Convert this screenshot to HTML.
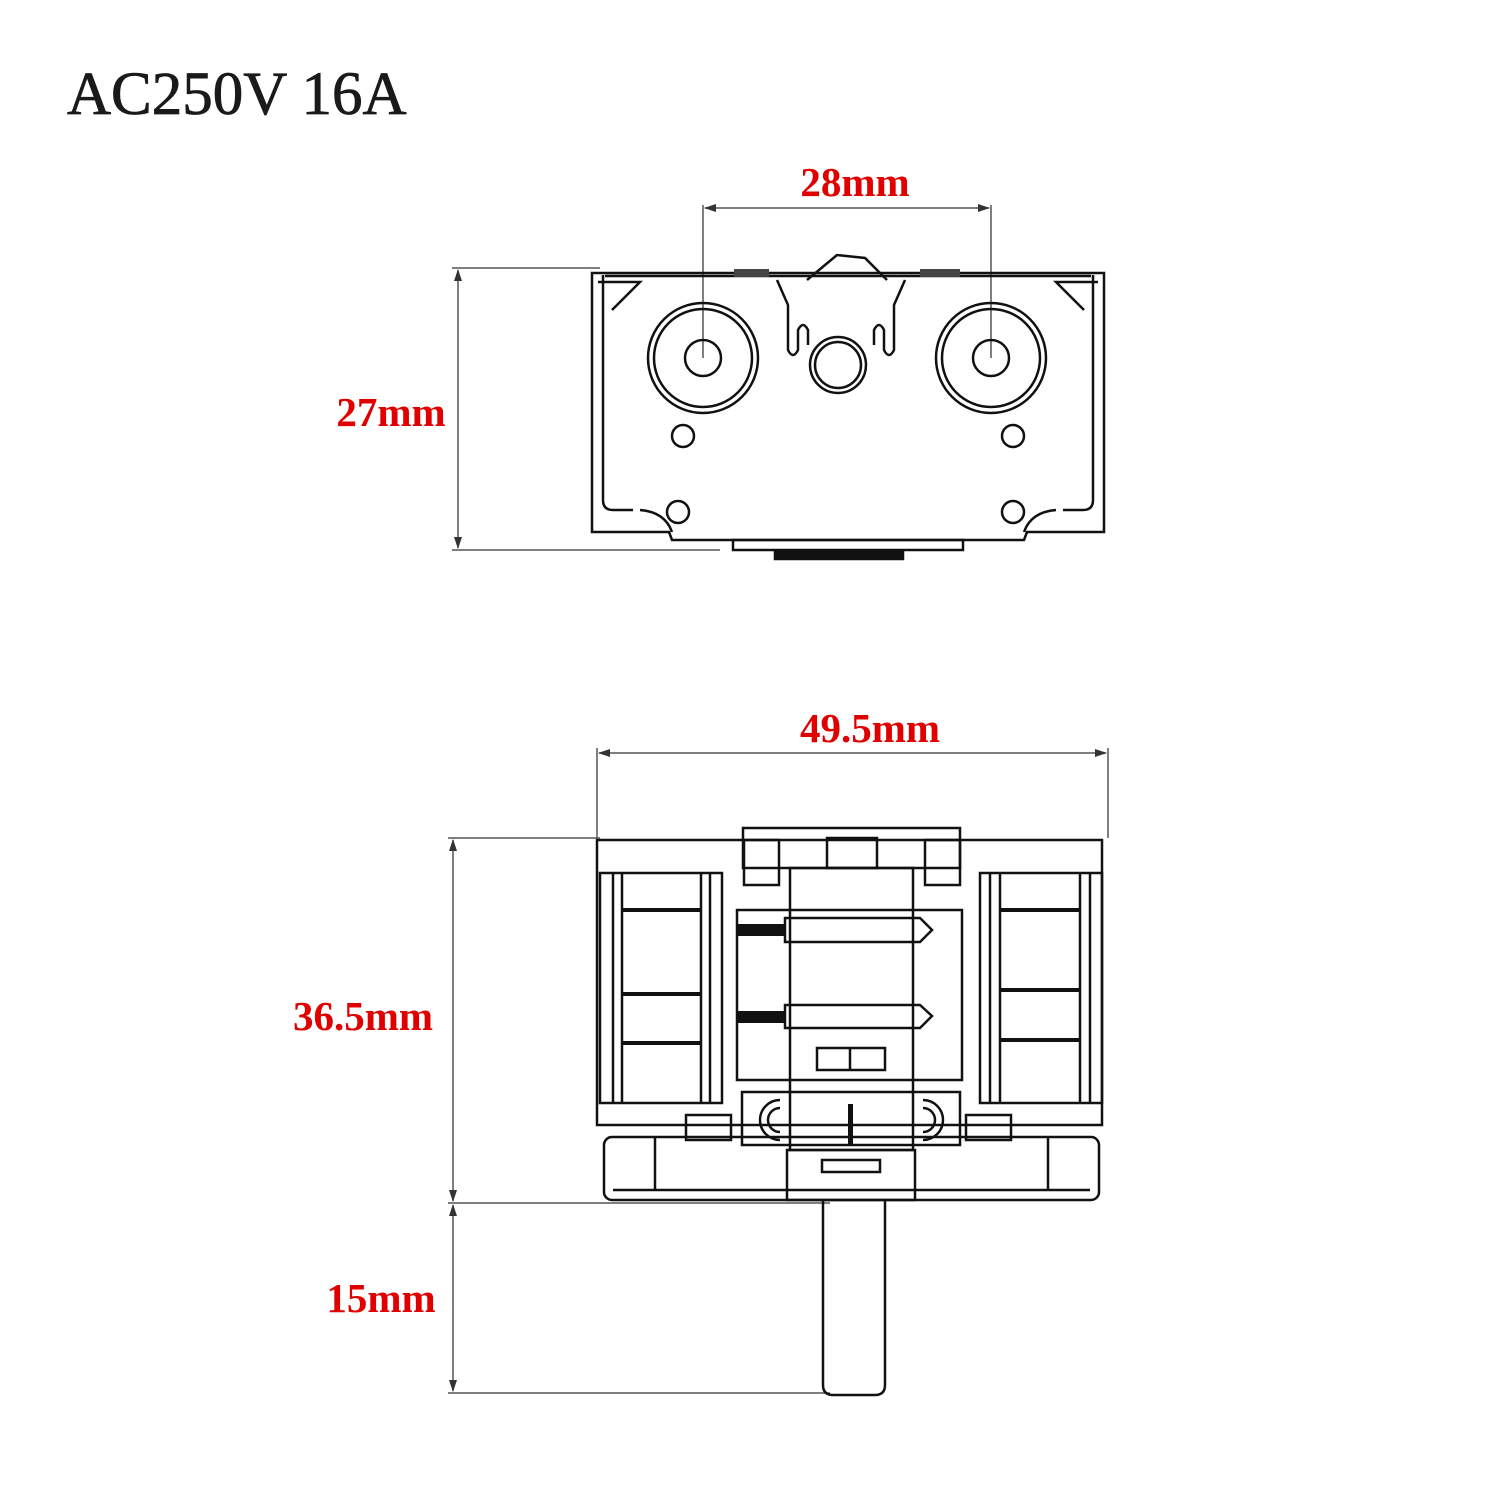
<!DOCTYPE html>
<html><head><meta charset="utf-8"><style>
html,body{margin:0;padding:0;background:#fff}
svg{display:block}
.t{font-family:"Liberation Serif",serif;fill:#1a1a1a;stroke:#1a1a1a;stroke-width:0.8}
.r{font-family:"Liberation Serif",serif;font-weight:bold;fill:#e00000;font-size:41px;text-anchor:middle}
</style></head><body>
<svg width="1500" height="1500" viewBox="0 0 1500 1500" xmlns="http://www.w3.org/2000/svg">
<defs>
<marker id="a" markerWidth="12" markerHeight="8" refX="11" refY="4" orient="auto-start-reverse" markerUnits="userSpaceOnUse"><path d="M0,0 L12,4 L0,8 z" fill="#333"/></marker>
</defs>
<text class="t" x="67" y="114" font-size="61">AC250V 16A</text>

<g stroke="#555" stroke-width="1.5" fill="none">
<line x1="703" y1="205" x2="703" y2="358"/>
<line x1="991" y1="205" x2="991" y2="358"/>
<line x1="705" y1="208" x2="989" y2="208" marker-start="url(#a)" marker-end="url(#a)"/>
<line x1="452" y1="268" x2="600" y2="268"/>
<line x1="452" y1="550" x2="720" y2="550"/>
<line x1="458" y1="270" x2="458" y2="548" marker-start="url(#a)" marker-end="url(#a)"/>
<line x1="597" y1="748" x2="597" y2="838"/>
<line x1="1108" y1="748" x2="1108" y2="838"/>
<line x1="599" y1="753" x2="1106" y2="753" marker-start="url(#a)" marker-end="url(#a)"/>
<line x1="448" y1="838" x2="600" y2="838"/>
<line x1="448" y1="1203" x2="830" y2="1203"/>
<line x1="453" y1="840" x2="453" y2="1201" marker-start="url(#a)" marker-end="url(#a)"/>
<line x1="453" y1="1205" x2="453" y2="1391" marker-start="url(#a)" marker-end="url(#a)"/>
<line x1="448" y1="1393" x2="830" y2="1393"/>
</g>
<text class="r" x="855" y="196">28mm</text>
<text class="r" x="391" y="426">27mm</text>
<text class="r" x="870" y="742">49.5mm</text>
<text class="r" x="363" y="1030">36.5mm</text>
<text class="r" x="381" y="1312">15mm</text>

<g stroke="#111" stroke-width="2.5" fill="none">
<path d="M592,273 L592,532 L669,532 L672,540 L730,540 L965,540 L1024,540 L1027,532 L1104,532 L1104,273 Z"/>
<path d="M603,275 L603,500 Q603,510 613,510 L633,510"/>
<path d="M1093,275 L1093,500 Q1093,510 1083,510 L1063,510"/>
<line x1="605" y1="276" x2="1091" y2="276"/>
<path d="M598,282 L640,282 L612,310"/>
<path d="M1098,282 L1056,282 L1084,310"/>
<path d="M640,510 Q665,512 672,532"/>
<path d="M1056,510 Q1031,512 1024,532"/>
<path d="M777,280 L788,305 L788,350 Q793,360 798,350 L798,330 Q803,320 808,330 L808,345"/>
<path d="M905,280 L894,305 L894,350 Q889,360 884,350 L884,330 Q879,320 874,330 L874,345"/>
<path d="M807,280 L837,255 L865,258 L887,280"/>
<rect x="733" y="540" width="230" height="10"/>
<rect x="775" y="551" width="128" height="8" fill="#111"/>
<rect x="734" y="269" width="35" height="8" fill="#444" stroke="none"/>
<rect x="920" y="269" width="40" height="8" fill="#444" stroke="none"/>
<circle cx="703" cy="358" r="55"/><circle cx="703" cy="358" r="49"/><circle cx="703" cy="358" r="18"/>
<circle cx="991" cy="358" r="55"/><circle cx="991" cy="358" r="49"/><circle cx="991" cy="358" r="18"/>
<circle cx="838" cy="365" r="28"/><circle cx="838" cy="365" r="23"/>
<circle cx="683" cy="436" r="11"/><circle cx="1013" cy="436" r="11"/>
<circle cx="678" cy="512" r="11"/><circle cx="1013" cy="512" r="11"/>
</g>

<g stroke="#111" stroke-width="2.5" fill="none">
<rect x="597" y="840" width="505" height="285"/>
<rect x="743" y="828" width="217" height="40"/>
<rect x="827" y="838" width="50" height="30"/>
<rect x="744" y="840" width="35" height="45"/>
<rect x="925" y="840" width="35" height="45"/>
<rect x="600" y="873" width="122" height="230"/>
<line x1="613" y1="873" x2="613" y2="1103"/><line x1="622" y1="873" x2="622" y2="1103"/>
<line x1="701" y1="873" x2="701" y2="1103"/><line x1="710" y1="873" x2="710" y2="1103"/>
<rect x="980" y="873" width="122" height="230"/>
<line x1="990" y1="873" x2="990" y2="1103"/><line x1="1000" y1="873" x2="1000" y2="1103"/>
<line x1="1080" y1="873" x2="1080" y2="1103"/><line x1="1090" y1="873" x2="1090" y2="1103"/>
<rect x="737" y="910" width="225" height="170"/>
<rect x="790" y="868" width="123" height="282"/>
<path d="M785,918 L920,918 L932,930 L920,942 L785,942 Z"/>
<path d="M785,1005 L920,1005 L932,1016 L920,1028 L785,1028 Z"/>
<rect x="817" y="1048" width="68" height="22"/><line x1="850" y1="1048" x2="850" y2="1070"/>
<rect x="742" y="1092" width="218" height="53"/>
<rect x="686" y="1115" width="45" height="25"/>
<rect x="966" y="1115" width="45" height="25"/>
<path d="M780,1100 A20,20 0 0 0 780,1140"/><path d="M780,1108 A12,12 0 0 0 780,1132"/>
<path d="M923,1100 A20,20 0 0 1 923,1140"/><path d="M923,1108 A12,12 0 0 1 923,1132"/>
<rect x="604" y="1137" width="495" height="63" rx="8"/>
<line x1="613" y1="1190" x2="1090" y2="1190"/>
<rect x="787" y="1150" width="128" height="50"/>
<rect x="822" y="1160" width="58" height="12"/>
<line x1="655" y1="1137" x2="655" y2="1190"/><line x1="1048" y1="1137" x2="1048" y2="1190"/>
<path d="M823,1200 L823,1385 Q823,1395 833,1395 L875,1395 Q885,1395 885,1385 L885,1200"/>
</g>
<g fill="#111">
<rect x="737" y="924" width="48" height="12"/>
<rect x="737" y="1011" width="48" height="12"/>
<rect x="848" y="1104" width="5" height="40"/>
<rect x="622" y="908" width="79" height="4"/><rect x="622" y="992" width="79" height="4"/><rect x="622" y="1041" width="79" height="4"/>
<rect x="1000" y="908" width="80" height="4"/><rect x="1000" y="988" width="80" height="4"/><rect x="1000" y="1038" width="80" height="4"/>
</g>
</svg>
</body></html>
